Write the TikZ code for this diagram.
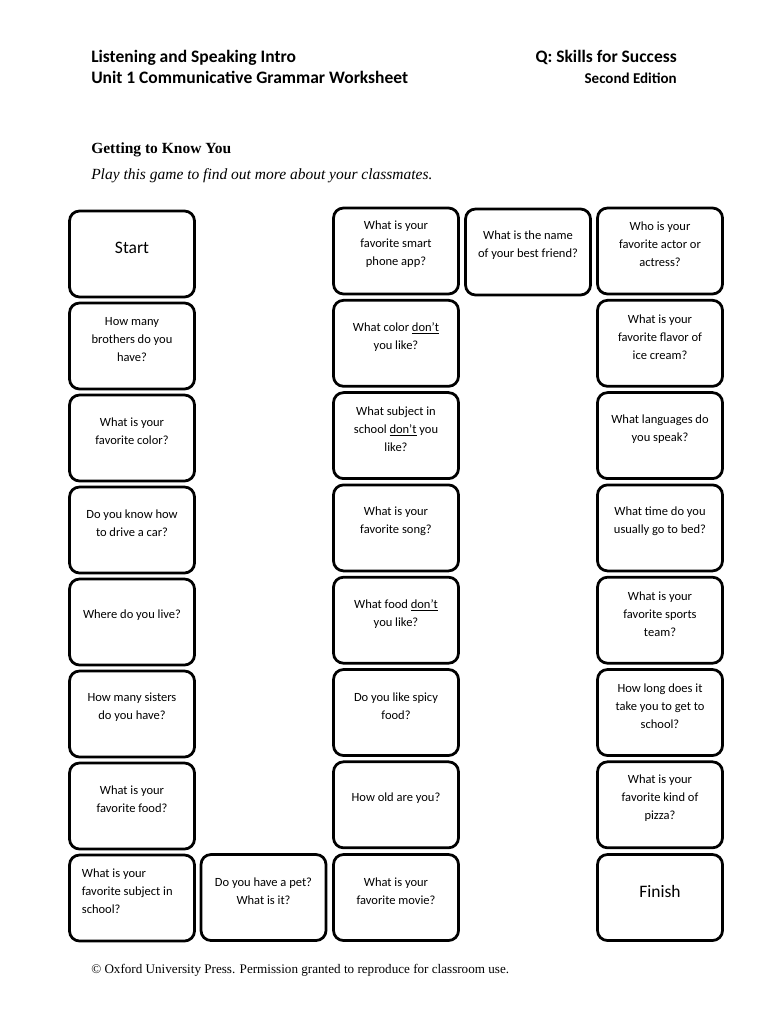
\documentclass[tikz,border=0pt]{standalone}
\usepackage{fontspec}
\setmainfont{Carlito}
\newfontfamily\serifcam{Liberation Serif}
\usetikzlibrary{calc}
\tikzset{
  card/.style={draw=black, line width=2.2pt, rounded corners=8pt, minimum width=100pt, minimum height=68.8pt, inner sep=0pt, fill=white},
  cardtxt/.style={inner sep=0pt, align=center, font=\fontsize{10}{14.4}\selectfont},
  bigtxt/.style={inner sep=0pt, align=center, font=\fontsize{14}{16}\selectfont},
  headtxt/.style={inner sep=0pt, font=\fontsize{14}{16}\selectfont\bfseries},
  subhead/.style={inner sep=0pt, font=\fontsize{12}{14}\selectfont\bfseries},
  sertitle/.style={inner sep=0pt, font=\serifcam\fontsize{12.4}{14}\selectfont\bfseries},
  seritalic/.style={inner sep=0pt, font=\serifcam\fontsize{12.4}{14}\selectfont\itshape},
  serfoot/.style={inner sep=0pt, font=\serifcam\fontsize{10.5}{12}\selectfont}
}
\newcommand\qcard[3]{%
  \node[card] (#1) at #2 {};
  \node[cardtxt] (#1t) at ($(#1.north)+(0,38)$) {#3};
}
\newcommand\bcard[3]{%
  \node[card] (#1) at #2 {};
  \node[bigtxt] (#1t) at ($(#1.north)+(0,38)$) {#3};
}
\begin{document}
\begin{tikzpicture}[x=0.8pt, y=-0.8pt]
\useasboundingbox[fill=white] (0,0) rectangle (768,1024);

% header
\node[headtxt, anchor=base west] (h1) at (91,63) {Listening and Speaking Intro};
\node[headtxt, anchor=base west] (h2) at (91,84) {Unit 1 Communicative Grammar Worksheet};
\node[headtxt, anchor=base east] (h3) at (677,63) {Q: Skills for Success};
\node[subhead, anchor=base east] (h4) at (677,84) {Second Edition};
\node[sertitle, anchor=base west] (t1) at (91,154) {Getting to Know You};
\node[seritalic, anchor=base west] (t2) at (91,180) {Play this game to find out more about your classmates.};

% column 1
\bcard{a1}{(132,254)}{Start}
\qcard{a2}{(132,346)}{How many\\brothers do you\\have?}
\qcard{a3}{(132,438)}{What is your\\favorite color?}
\qcard{a4}{(132,530)}{Do you know how\\to drive a car?}
\qcard{a5}{(132,622)}{Where do you live?}
\qcard{a6}{(132,714)}{How many sisters\\do you have?}
\qcard{a7}{(132,806)}{What is your\\favorite food?}
\node[card] (a8) at (132,898) {};
\node[cardtxt, align=left, anchor=west] (a8t) at ($(a8.north west)+(13.5,38)$) {What is your\\favorite subject in\\school?};

% column 2
\qcard{b8}{(263.5,897.5)}{Do you have a pet?\\What is it?}

% column 3
\qcard{c1}{(396,251)}{What is your\\favorite smart\\phone app?}
\qcard{c2}{(396,343.3)}{What color \underline{don’t}\\you like?}
\qcard{c3}{(396,435.6)}{What subject in\\school \underline{don’t} you\\like?}
\qcard{c4}{(396,527.9)}{What is your\\favorite song?}
\qcard{c5}{(396,620.2)}{What food \underline{don’t}\\you like?}
\qcard{c6}{(396,712.5)}{Do you like spicy\\food?}
\qcard{c7}{(396,804.8)}{How old are you?}
\qcard{c8}{(396,897.5)}{What is your\\favorite movie?}

% column 4
\qcard{d1}{(528,252)}{What is the name\\of your best friend?}

% column 5
\qcard{e1}{(660,251)}{Who is your\\favorite actor or\\actress?}
\qcard{e2}{(660,343.3)}{What is your\\favorite flavor of\\ice cream?}
\qcard{e3}{(660,435.6)}{What languages do\\you speak?}
\qcard{e4}{(660,527.9)}{What time do you\\usually go to bed?}
\qcard{e5}{(660,620.2)}{What is your\\favorite sports\\team?}
\qcard{e6}{(660,712.5)}{How long does it\\take you to get to\\school?}
\qcard{e7}{(660,804.8)}{What is your\\favorite kind of\\pizza?}
\bcard{e8}{(660,897.5)}{Finish}

% footer
\node[serfoot, anchor=base west] (f1) at (91,973) {© Oxford University Press. Permission granted to reproduce for classroom use.};
\end{tikzpicture}
\end{document}
